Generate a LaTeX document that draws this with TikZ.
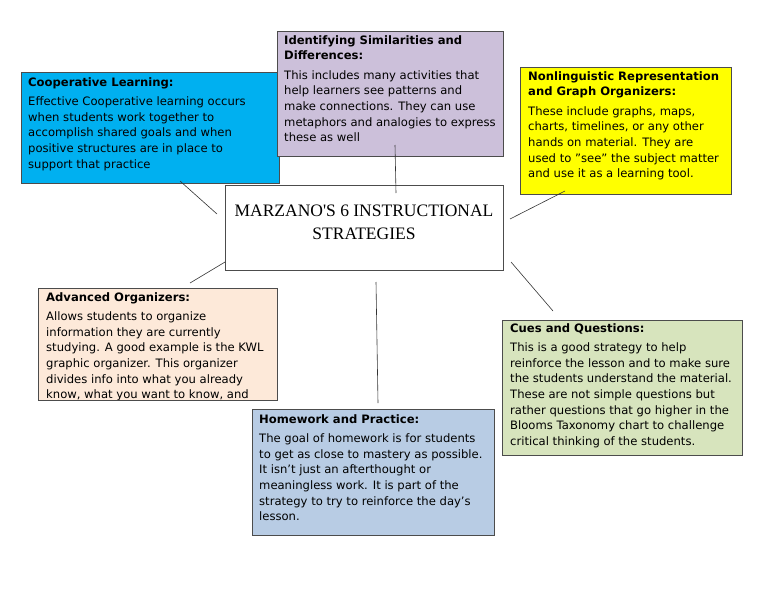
\documentclass[tikz,border=0pt]{standalone}
\usepackage{fontspec}
\setmainfont{DejaVu Sans}
\newfontfamily\titlefont{Liberation Serif}
\begin{document}
\begin{tikzpicture}[x=1pt,y=-1pt]
      \definecolor{coopblue}{RGB}{0,176,240}
      \definecolor{simlav}{RGB}{204,192,218}
      \definecolor{nonyel}{RGB}{255,255,0}
      \definecolor{advpeach}{RGB}{253,233,217}
      \definecolor{cuegreen}{RGB}{215,228,189}
      \definecolor{hwblue}{RGB}{184,204,228}
      \tikzset{box/.style={draw=black!70,line width=.6pt},
        txt/.style={anchor=north west,align=left,inner sep=0pt,
          font=\fontsize{11.6}{15.6}\selectfont},
        link/.style={draw=black!80,line width=.6pt}}
      \useasboundingbox (0,0) rectangle (768,594);
      % boxes
      \draw[box,fill=coopblue] (21,72) rectangle (279,183);
      \draw[box,fill=simlav] (277,31) rectangle (503,156);
      \draw[box,fill=nonyel] (520,67) rectangle (731,194);
      \draw[box,fill=white] (225,185) rectangle (503,270);
      \draw[box,fill=advpeach] (38,288) rectangle (277,400);
      \draw[box,fill=cuegreen] (502,320) rectangle (742,455);
      \draw[box,fill=hwblue] (252,409) rectangle (494,535);
      % texts
      \node[txt] (coop) at (28,77) {\textbf{Cooperative Learning:}\\[4pt]
        Effective Cooperative learning occurs\\when students work together to\\
        accomplish shared goals and when\\positive structures are in place to\\support that practice};
      \node[txt] (sim) at (284,35) {\textbf{Identifying Similarities and}\\\textbf{Differences:}\\[4pt]
        This includes many activities that\\help learners see patterns and\\make connections. They can use\\
        metaphors and analogies to express\\these as well};
      \node[txt] (non) at (528,71) {\textbf{Nonlinguistic Representation}\\\textbf{and Graph Organizers:}\\[4pt]
        These include graphs, maps,\\charts, timelines, or any other\\hands on material. They are\\
        used to "see" the subject matter\\and use it as a learning tool.};
      \node[font=\titlefont\fontsize{17.5}{23}\selectfont,align=center] (main) at (364,222)
        {MARZANO'S 6 INSTRUCTIONAL\\STRATEGIES};
      \begin{scope}
        \clip (38,288) rectangle (277,399);
        \node[txt] (adv) at (46,292) {\textbf{Advanced Organizers:}\\[4pt]
          Allows students to organize\\information they are currently\\studying. A good example is the KWL\\
          graphic organizer. This organizer\\divides info into what you already\\know, what you want to know, and};
      \end{scope}
      \begin{scope}
        \clip (502,320) rectangle (742,454);
        \node[txt] (cue) at (510,323) {\textbf{Cues and Questions:}\\[4pt]
          This is a good strategy to help\\reinforce the lesson and to make sure\\the students understand the material.\\
          These are not simple questions but\\rather questions that go higher in the\\Blooms Taxonomy chart to challenge\\critical thinking of the students.};
      \end{scope}
      \node[txt] (hw) at (259,414) {\textbf{Homework and Practice:}\\[4pt]
        The goal of homework is for students\\to get as close to mastery as possible.\\It isn't just an afterthought or\\
        meaningless work. It is part of the\\strategy to try to reinforce the day's\\lesson.};
      % connectors
      \coordinate (c1) at (180,181); \coordinate (m1) at (217,214);
      \coordinate (c2) at (395,145); \coordinate (m2) at (396,193);
      \coordinate (c3) at (565,191); \coordinate (m3) at (510,219);
      \coordinate (c4) at (190,283); \coordinate (m4) at (225,262);
      \coordinate (c5) at (553,311); \coordinate (m5) at (511,262);
      \coordinate (c6) at (378,403); \coordinate (m6) at (376,282);
      \foreach \i in {1,...,6} \draw[link] (c\i) -- (m\i);
\end{tikzpicture}
\end{document}
